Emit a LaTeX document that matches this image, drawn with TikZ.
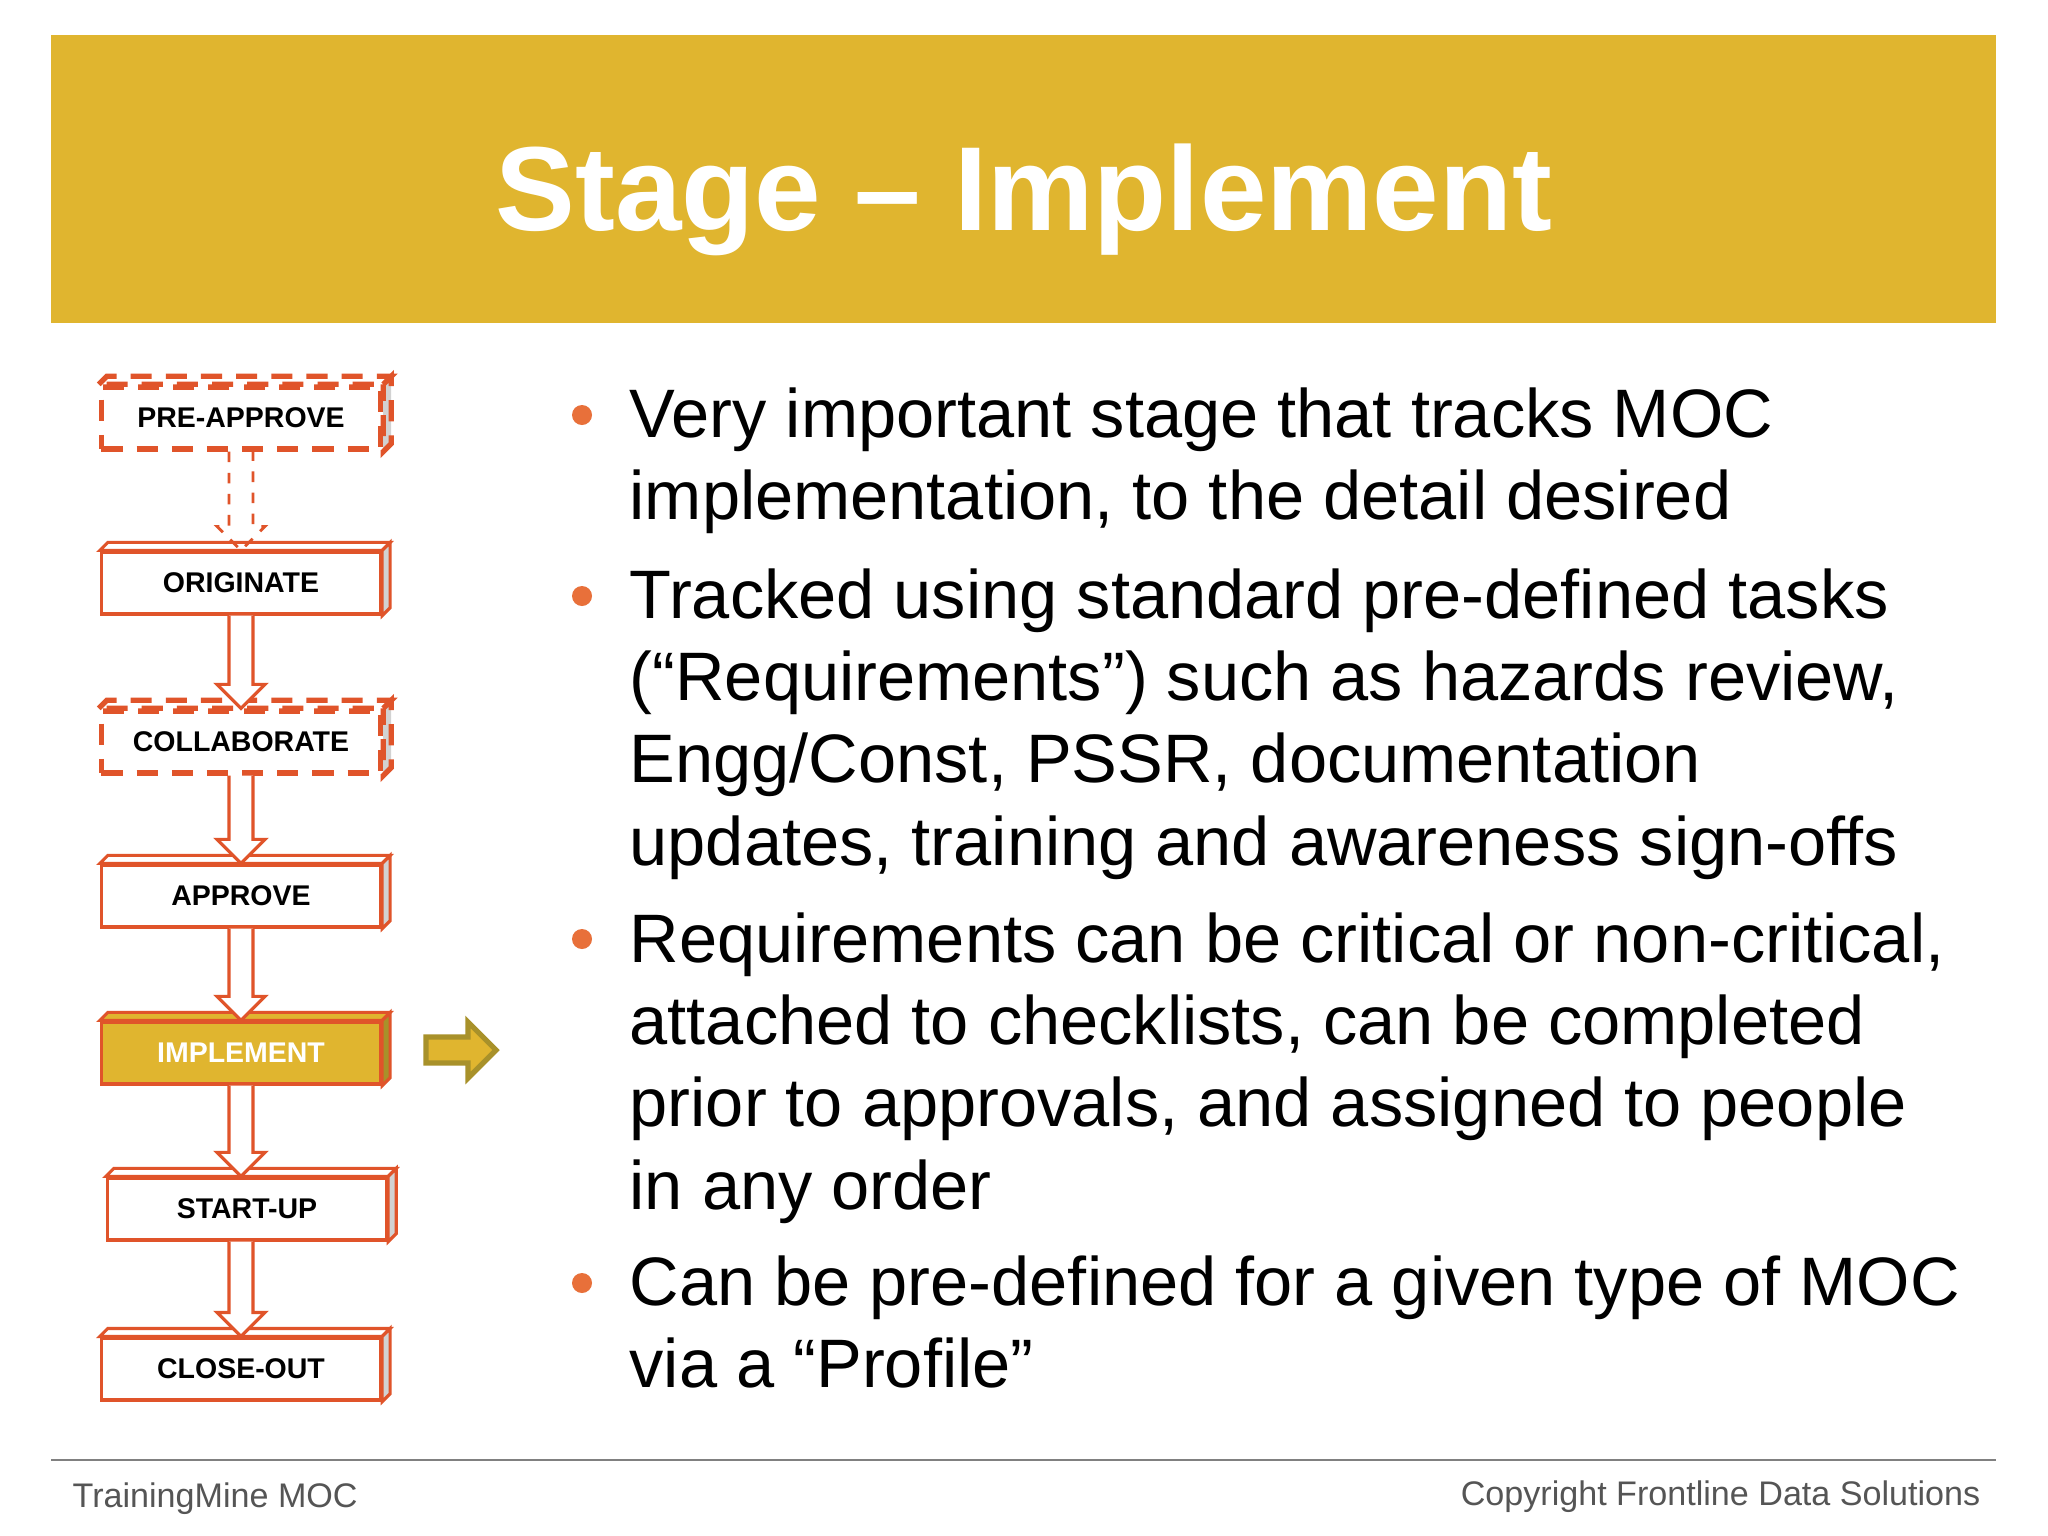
\documentclass[tikz,border=0pt]{standalone}
\usepackage{fontspec}
\setmainfont{Liberation Sans}
\usetikzlibrary{calc}
\definecolor{gold}{HTML}{E0B52F}
\definecolor{org}{HTML}{E0542A}
\definecolor{bul}{HTML}{E8703A}
\definecolor{olive}{HTML}{A8912A}
\definecolor{foot}{HTML}{555555}
\tikzset{
  stagebox/.style={draw=org,line width=0.9pt,fill=white,minimum width=2.79cm,minimum height=0.62cm,inner sep=0,font=\fontsize{8.1}{9}\selectfont\bfseries},
  dashbox/.style={stagebox,line width=1.5pt,dash pattern=on 6pt off 4pt},
  flowarr/.style={draw=org,line width=0.9pt,fill=white},
  bullettext/.style={anchor=north west,inner sep=0,align=left,font=\fontsize{19.5}{23.4}\selectfont},
  dot/.style={circle,fill=bul,inner sep=0,minimum size=0.2cm}
}
\newcommand{\sidefaces}[2]{%
  \draw[#2,fill=white] (#1.north west) -- ++(8,-8) -- ($(#1.north east)+(8,-8)$) -- (#1.north east) -- cycle;
  \draw[#2,fill=gray!35] (#1.north east) -- ++(8,-8) -- ($(#1.south east)+(8,-8)$) -- (#1.south east) -- cycle;}
\newcommand{\hollow}[3]{%
  \coordinate (ht) at (#1.south |- #2.north);
  \draw[#3] ($(#1.south)+(-12,0)$) -- ($(ht)+(-12,-24)$) -- ($(ht)+(-24,-24)$) -- (ht) -- ($(ht)+(24,-24)$) -- ($(ht)+(12,-24)$) -- ($(#1.south)+(12,0)$);}
\begin{document}
\begin{tikzpicture}[x=0.01cm,y=-0.01cm]
\useasboundingbox (0,0) rectangle (2048,1536);
\fill[white] (0,0) rectangle (2048,1536);
\fill[gold] (51,35) rectangle (1996,323);
\node[text=white,font=\fontsize{34}{40}\selectfont\bfseries] (title) at (1024,200) {Stage – Implement};

\node[dashbox] (pre) at (241,418) {PRE-APPROVE};
\node[stagebox] (ori) at (241,583) {ORIGINATE};
\node[dashbox] (col) at (241,742) {COLLABORATE};
\node[stagebox] (app) at (241,896) {APPROVE};
\node[stagebox,fill=gold,text=white] (imp) at (241,1053) {IMPLEMENT};
\node[stagebox] (stu) at (247,1209) {START-UP};
\node[stagebox] (clo) at (241,1369) {CLOSE-OUT};
\sidefaces{pre}{draw=org,line width=1.5pt,dash pattern=on 6pt off 4pt}
\sidefaces{ori}{draw=org,line width=0.9pt}
\sidefaces{col}{draw=org,line width=1.5pt,dash pattern=on 6pt off 4pt}
\sidefaces{app}{draw=org,line width=0.9pt}
\draw[org,line width=0.9pt,fill=gold] (imp.north west) -- ++(8,-8) -- ($(imp.north east)+(8,-8)$) -- (imp.north east) -- cycle;
\draw[org,line width=0.9pt,fill=olive] (imp.north east) -- ++(8,-8) -- ($(imp.south east)+(8,-8)$) -- (imp.south east) -- cycle;
\sidefaces{stu}{draw=org,line width=0.9pt}
\sidefaces{clo}{draw=org,line width=0.9pt}

\hollow{pre}{ori}{draw=org,line width=0.8pt,dashed}
\hollow{ori}{col}{flowarr}
\hollow{col}{app}{flowarr}
\hollow{app}{imp}{flowarr}
\hollow{imp}{stu}{flowarr}
\draw[flowarr] ($(stu.south -| imp.south)+(-12,0)$) -- ($(clo.north)+(-12,-24)$) -- ($(clo.north)+(-24,-24)$) -- (clo.north) -- ($(clo.north)+(24,-24)$) -- ($(clo.north)+(12,-24)$) -- ($(stu.south -| imp.south)+(12,0)$);

\coordinate (ra) at (426,1050);
\draw[olive,line width=1.5pt,fill=gold] (ra) ++(0,-13) -- ++(42,0) -- ++(0,-15) -- ++(28,28) -- ++(-28,28) -- ++(0,-15) -- ++(-42,0) -- cycle;

\node[dot] (d1) at (582,415) {};
\node[bullettext] (b1) at (629,387) {Very important stage that tracks MOC\\implementation, to the detail desired};
\node[dot] (d2) at (582,596) {};
\node[bullettext] (b2) at (629,568) {Tracked using standard pre-defined tasks\\(“Requirements”) such as hazards review,\\Engg/Const, PSSR, documentation\\updates, training and awareness sign-offs};
\node[dot] (d3) at (582,939) {};
\node[bullettext] (b3) at (629,912) {Requirements can be critical or non-critical,\\attached to checklists, can be completed\\prior to approvals, and assigned to people\\in any order};
\node[dot] (d4) at (582,1283) {};
\node[bullettext] (b4) at (629,1255) {Can be pre-defined for a given type of MOC\\via a “Profile”};

\draw[gray,line width=0.8pt] (51,1460) -- (1996,1460);
\node[anchor=west,text=foot,font=\fontsize{9.7}{11}\selectfont,inner sep=0] (f1) at (72,1499) {TrainingMine MOC};
\node[anchor=east,text=foot,font=\fontsize{9.7}{11}\selectfont,inner sep=0] (f2) at (1981,1497) {Copyright Frontline Data Solutions};
\end{tikzpicture}
\end{document}
